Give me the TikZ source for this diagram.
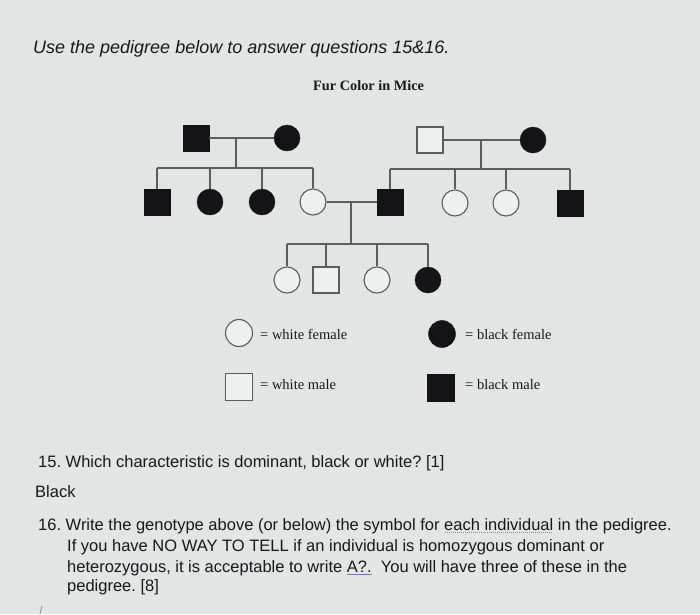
\documentclass[tikz,border=0pt]{standalone}
\usepackage{fontspec}
\setmainfont{Liberation Serif}
\newfontfamily\arialf{Liberation Sans}
\frenchspacing
\definecolor{bg}{HTML}{E3E5E5}
\definecolor{ink}{HTML}{141418}
\definecolor{lin}{HTML}{5C5C5C}
\definecolor{wfill}{HTML}{EEF0F0}
\definecolor{txt}{HTML}{18181A}
\definecolor{ulblue}{HTML}{6A7CA8}
\definecolor{ulgray}{HTML}{8A8C90}
\newsavebox\myulbox
\newcommand\mydotul[1]{\sbox\myulbox{#1}\rlap{\color{ulgray}\raisebox{-3pt}{\hbox to \wd\myulbox{\leaders\hbox to 2pt{\hss\rule{1pt}{1pt}\hss}\hfill}}}\usebox\myulbox}
\newcommand\myblueul[1]{\sbox\myulbox{#1}\rlap{\color{ulblue}\rule[-3pt]{\wd\myulbox}{0.9pt}}\usebox\myulbox}
\tikzset{
  x=1pt, y=-1pt,
  bm/.style={draw=ink, fill=ink, rectangle, minimum size=26pt, inner sep=0pt},
  bf/.style={draw=ink, fill=ink, circle, minimum size=26pt, inner sep=0pt},
  wm/.style={draw=lin, fill=wfill, rectangle, minimum size=26pt, inner sep=0pt, line width=1.1pt},
  wf/.style={draw=lin, fill=wfill, circle, minimum size=26pt, inner sep=0pt, line width=1.1pt},
  leg/.style={minimum size=27pt},
  conn/.style={draw=lin, line width=1.4pt},
  qtext/.style={anchor=base west, inner sep=0pt, text=txt, font=\arialf\fontsize{16.5}{20}\selectfont\frenchspacing},
  legtext/.style={anchor=base west, inner sep=0pt, text=txt, font=\fontsize{14.5}{17}\selectfont},
}
\begin{document}
\begin{tikzpicture}
\fill[bg] (0,0) rectangle (700,614);
\useasboundingbox (0,0) rectangle (700,614);

% title
\node[anchor=base west, inner sep=0pt, text=txt, font=\arialf\itshape\fontsize{18}{22}\selectfont] (title) at (33,53.5) {Use the pedigree below to answer questions 15\&16.};
\node[anchor=base west, inner sep=0pt, text=txt, font=\bfseries\fontsize{14.3}{17}\selectfont] (sub) at (313,90) {Fur Color in Mice};

% generation I
\node[bm] (A) at (196,138) {};
\node[bf] (B) at (287,138) {};
\node[wm] (F) at (430,140) {};
\node[bf] (G) at (533,140) {};

% generation II
\node[bm] (c1) at (157,202) {};
\node[bf] (c2) at (210,202) {};
\node[bf] (c3) at (262,202) {};
\node[wf] (c4) at (313,202) {};
\node[bm] (d1) at (390,202) {};
\node[wf] (d2) at (455,203) {};
\node[wf] (d3) at (506,203) {};
\node[bm] (d4) at (570,203) {};

% generation III
\node[wf] (e1) at (287,280) {};
\node[wm] (e2) at (326,280) {};
\node[wf] (e3) at (377,280) {};
\node[bf] (e4) at (428,280) {};

% connectors family 1
\coordinate (m1) at (236,138);
\coordinate (s1) at (0,168);
\draw[conn] (A.east) -- (B.west);
\draw[conn] (m1) -- (m1 |- s1);
\draw[conn] (c1.north |- s1) -- (c4.north |- s1);
\foreach \n in {c1,c2,c3,c4} \draw[conn] (\n.north) -- (\n.north |- s1);

% connectors family 2
\coordinate (m2) at (481,140);
\coordinate (s2) at (0,169);
\draw[conn] (F.east) -- (G.west);
\draw[conn] (m2) -- (m2 |- s2);
\draw[conn] (d1.north |- s2) -- (d4.north |- s2);
\foreach \n in {d1,d2,d3,d4} \draw[conn] (\n.north) -- (\n.north |- s2);

% connectors family 3
\coordinate (m3) at (351,202);
\coordinate (s3) at (0,244);
\draw[conn] (c4.east) -- (d1.west);
\draw[conn] (m3) -- (m3 |- s3);
\draw[conn] (e1.north |- s3) -- (e4.north |- s3);
\foreach \n in {e1,e2,e3,e4} \draw[conn] (\n.north) -- (\n.north |- s3);

% legend
\node[wf, leg] (L1) at (239,333) {};
\node[bf, leg] (L2) at (442,334) {};
\node[wm, leg] (L3) at (239,387) {};
\node[bm, leg] (L4) at (441,388) {};
\node[legtext] (t1) at (260,339) {= white female};
\node[legtext] (t2) at (465,339) {= black female};
\node[legtext] (t3) at (260,389) {= white male};
\node[legtext] (t4) at (465,389) {= black male};

% questions
\node[qtext] (q15) at (38,467) {15. Which characteristic is dominant, black or white? [1]};
\node[qtext] (ans) at (35,497) {Black};
\node[qtext] (q16) at (38,530) {16. Write the genotype above (or below) the symbol for \mydotul{each individual} in the pedigree.};
\node[qtext] (q16b) at (67,551) {If you have NO WAY TO TELL if an individual is homozygous dominant or};
\node[qtext] (q16c) at (67,572) {heterozygous, it is acceptable to write \myblueul{A?.}\ \ You will have three of these in the};
\node[qtext] (q16d) at (67,591) {pedigree. [8]};
\draw[lin!70, line width=0.8pt] (40,614) -- (42,606);
\end{tikzpicture}
\end{document}
